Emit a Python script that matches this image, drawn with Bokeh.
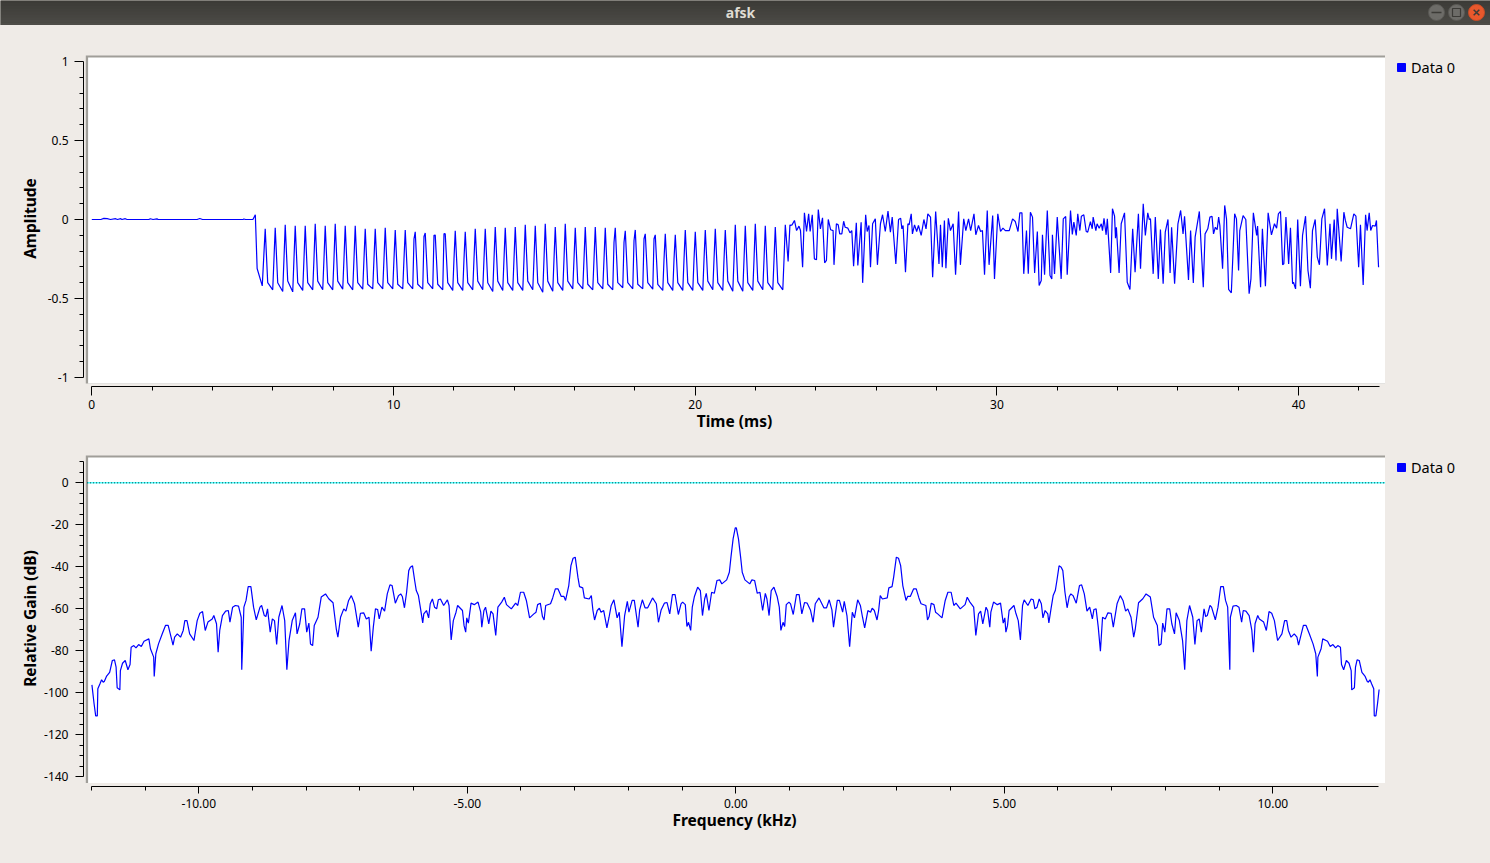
from bokeh.embed import file_html
from bokeh.layouts import column, row
from bokeh.models import (BoxAnnotation, FixedTicker, Label, Legend, LegendItem,
                          PrintfTickFormatter, Range1d)
from bokeh.plotting import figure
from bokeh.resources import INLINE

# time trace, quiet lead-in
quiet_t = [0, 0.3, 0.40, 0.51, 0.62, 0.79, 0.85, 0.96, 1.0, 1.11, 1.17, 1.89, 1.94, 2.03, 2.16, 2.2,
           3.49, 3.58, 3.67, 5.01, 5.04, 5.1, 5.34, 5.42, 5.48, 5.65]
quiet_amp = [0, 0, .007, .005, 0, .005, 0, .005, 0, .005, 0, 0, .005, 0, .004, 0,
             0, .006, 0, 0, .003, 0, 0, .03, -.31, -.42]

# one row per pulse of the preamble
pulse_peak = [-.059, -.053, -.034, -.04, -.04, -.027, -.04, -.027, -.04, -.04, -.059, -.059, -.053,
              -.066, -.066, -.078, -.085, -.099, -.091, -.072, -.078, -.059, -.059, -.047, -.053,
              -.047, -.034, -.04, -.027, -.047, -.027, -.053, -.047, -.047, -.053, -.053, -.072,
              -.066, -.091, -.097, -.091, -.097, -.066, -.078, -.066, -.059, -.066, -.034, -.04,
              -.027, -.04, -.047, -.034]
pulse_knee = [-.40, -.40, -.39, -.40, -.40, -.39, -.40, -.39, -.40, -.40, -.41, -.40, -.40, -.41,
              -.40, -.41, -.40, -.41, -.40, -.40, -.40, -.39, -.40, -.39, -.40, -.40, -.39, -.40,
              -.39, -.40, -.39, -.40, -.41, -.40, -.41, -.40, -.40, -.41, -.40, -.41, -.40, -.40,
              -.40, -.40, -.39, -.40, -.39, -.39, -.40, -.39, -.40, -.40, -.40]
pulse_floor = [-.445, -.456, -.458, -.449, -.445, -.445, -.445, -.441, -.445, -.441, -.439, -.439,
               -.439, -.439, -.439, -.441, -.439, -.445, -.449, -.449, -.445, -.445, -.456, -.449,
               -.449, -.449, -.445, -.46, -.454, -.449, -.439, -.439, -.445, -.439, -.445, -.432,
               -.439, -.439, -.441, -.449, -.449, -.449, -.449, -.449, -.445, -.449, -.454, -.454,
               -.449, -.445, -.445, -.445, -.44]
pulse_rise = [-.25, -.25, -.25, -.25, -.25, -.25, -.25, -.25, -.25, -.25, -.25, -.25, -.25, -.25,
              -.122, -.108, -.10, -.09, -.25, -.25, -.25, -.25, -.25, -.25, -.25, -.25, -.25, -.25,
              -.25, -.25, -.25, -.25, -.25, -.25, -.144, -.144, -.133, -.122, -.122, -.25, -.25,
              -.25, -.25, -.25, -.25, -.25, -.25, -.25, -.25, -.25, -.25, -.25, -.25]
pulse_first_ms = 5.748
pulse_period_ms = 0.3315

# payload part of the time trace
burst_t = [23.08, 23.14, 23.16, 23.21, 23.29, 23.36, 23.44, 23.49, 23.56, 23.62, 23.69, 23.76, 23.81, 23.88,
           23.95, 24.02, 24.08, 24.15, 24.22, 24.29, 24.35, 24.41, 24.49, 24.57, 24.60, 24.68, 24.74,
           24.79, 24.86, 24.92, 24.97, 25.06, 25.13, 25.19, 25.25, 25.34, 25.39, 25.50, 25.55, 25.65,
           25.70, 25.76, 25.81, 25.88, 25.97, 26.04, 26.14, 26.21, 26.30, 26.39, 26.47, 26.53, 26.65,
           26.74, 26.81, 26.85, 26.89, 26.97, 27.05, 27.09, 27.16, 27.20, 27.27, 27.34, 27.40, 27.49,
           27.58, 27.65, 27.71, 27.80, 27.87, 27.97, 28.08, 28.13, 28.19, 28.26, 28.31, 28.39, 28.46,
           28.55, 28.63, 28.73, 28.79, 28.90, 28.97, 29.06, 29.13, 29.24, 29.30, 29.39, 29.46, 29.52,
           29.59, 29.68, 29.74, 29.86, 29.92, 30.03, 30.12, 30.20, 30.28, 30.41, 30.52, 30.61, 30.70,
           30.76, 30.83, 30.89, 30.98, 31.04, 31.11, 31.18, 31.25, 31.34, 31.40, 31.47, 31.51, 31.58,
           31.67, 31.76, 31.82, 31.84, 31.91, 32.00, 32.13, 32.20, 32.28, 32.33, 32.44,
           32.50, 32.55, 32.63, 32.68, 32.75, 32.80, 32.88, 32.96, 33.01, 33.10, 33.16, 33.19, 33.28,
           33.32, 33.39, 33.46, 33.50, 33.55, 33.62, 33.66, 33.77, 33.83, 33.90, 33.93, 33.96, 34.05,
           34.12, 34.23, 34.32, 34.41, 34.50, 34.58, 34.69, 34.76, 34.85, 34.92, 35.00, 35.05, 35.09,
           35.18, 35.25, 35.35, 35.42, 35.51, 35.58, 35.67, 35.74, 35.79, 35.89, 36.00, 36.09, 36.17,
           36.22, 36.35, 36.42, 36.51, 36.57, 36.71, 36.84, 36.90, 36.99, 37.06, 37.13, 37.18, 37.24,
           37.30, 37.35, 37.39, 37.48, 37.55, 37.61, 37.68, 37.77, 37.88, 37.94, 38.01, 38.05, 38.16,
           38.25, 38.36, 38.42, 38.50, 38.61, 38.64, 38.74, 38.80, 38.90, 38.99, 39.10, 39.20, 39.27,
           39.33, 39.40, 39.47, 39.51, 39.58, 39.67, 39.73, 39.80, 39.83, 39.90, 39.97, 40.06, 40.13,
           40.23, 40.31, 40.39, 40.46, 40.55, 40.62, 40.69, 40.77, 40.86, 40.95, 41.04, 41.09, 41.18,
           41.24, 41.28, 41.41, 41.50, 41.55, 41.61, 41.72, 41.83, 41.90, 41.99, 42.05, 42.14, 42.22,
           42.27, 42.34, 42.39, 42.45, 42.54, 42.58, 42.65]
burst_amp = [-.266, -.034, -.038, -.034, -.006, -.07, -.042, -.07, -.302, .042, -.076, .036, -.076, .03,
             -.249, -.255, .063, -.059, .011, -.274, -.259, 0, -.065, -.07, -.287, -.027, -.034,
             -.091, -.091, -.011, -.049, -.055, -.084, -.07, -.295, -.021, -.291, -.017, -.401, .03,
             -.076, -.038, -.302, -.027, .004, -.287, -.027, .03, -.076, .053, -.08, .015, -.281,
             0, .008, -.059, -.038, -.333, -.027, -.034, .036, -.091, -.034, -.076, -.038, -.101,
             0, -.059, .036, .015, -.365, .051, -.281, -.034, -.302, -.006, -.308, .008, -.07,
             -.027, -.35, .051, -.287, .004, -.07, .004, -.07, .036, -.097, -.038, -.076, -.07,
             -.35, .057, -.287, .025, -.376, .036, -.076, -.055, -.07, -.07, .004, -.013, -.076,
             .042, .042, -.344, -.07, -.344, .046, .015, -.338, -.076, -.418, -.386, -.097, -.35,
             .057, -.354, -.376, -.097, -.344, .015, -.376, .004, .019, -.35, .057,
             -.095, -.017, -.101, .036, -.07, .021, .03, -.076, -.08, -.013, -.059, .015, -.07,
             -.027, -.055, -.027, -.07, .008, -.097, .004, -.338, .068, .021, -.118, -.049, -.338,
             -.027, .042, -.397, -.443, -.059, -.333, .036, -.312, .099, -.101, .042, 0, .004,
             -.344, .015, -.376, -.063, -.407, -.08, 0, -.338, -.049, -.407, -.027, .057, -.091,
             .021, -.382, -.07, -.401, -.112, .051, -.428, -.091, -.059, .015, .021, -.091, -.049,
             -.065, .015, -.038, -.312, .089, .004, -.443, -.464, .036, .004, -.323, -.07, .025,
             0, -.47, -.376, .042, -.101, -.042, -.428, -.059, -.422, .042, -.097, -.027, -.055,
             .036, .051, -.287, -.281, .015, -.281, -.053, -.407, -.397, -.439, 0, -.422, -.101,
             .021, -.323, -.435, -.07, 0, -.238, -.287, .004, .068, -.291, -.027, -.249, 0,
             -.259, .068, -.266, .046, -.006, -.049, -.059, .036, .021, -.302, -.034, -.414, .03,
             -.07, .042, -.07, -.038, -.042, -.006, -.302]

# spectrum, negative frequencies
freq_left = [-11.99, -11.95, -11.92, -11.89, -11.88, -11.84, -11.81, -11.78, -11.76, -11.72, -11.66, -11.61, -11.57,
             -11.54, -11.52, -11.47, -11.46, -11.42, -11.37, -11.32, -11.28, -11.26, -11.21, -11.17, -11.12, -11.07,
             -11.02, -10.93, -10.9, -10.84, -10.83, -10.8, -10.75, -10.68, -10.62, -10.57, -10.5, -10.48, -10.45,
             -10.4, -10.34, -10.29, -10.26, -10.22, -10.17, -10.09, -10.03, -9.98, -9.93, -9.88, -9.83, -9.75, -9.72,
             -9.67, -9.64, -9.61, -9.56, -9.5, -9.45, -9.42, -9.37, -9.32, -9.26, -9.21, -9.2, -9.16, -9.12, -9.08,
             -9.03, -8.98, -8.93, -8.86, -8.83, -8.78, -8.75, -8.72, -8.67, -8.63, -8.59, -8.55, -8.51, -8.45, -8.4,
             -8.36, -8.32, -8.26, -8.2, -8.17, -8.12, -8.08, -8.03, -7.99, -7.95, -7.92, -7.88, -7.85, -7.78, -7.72,
             -7.64, -7.58, -7.5, -7.44, -7.41, -7.36, -7.3, -7.26, -7.21, -7.16, -7.1, -7.03, -6.99, -6.93, -6.88,
             -6.83, -6.79, -6.75, -6.71, -6.67, -6.64, -6.59, -6.54, -6.49, -6.44, -6.4, -6.34, -6.28,
             -6.24, -6.21, -6.17, -6.13, -6.09, -6.06, -6.02, -5.98, -5.95, -5.91, -5.87, -5.83, -5.81, -5.76, -5.72,
             -5.69, -5.65, -5.61, -5.57, -5.54, -5.5, -5.44, -5.37, -5.34, -5.3, -5.26, -5.21, -5.18, -5.09, -5.06,
             -5.03, -5.01, -4.98, -4.93, -4.87, -4.80, -4.75, -4.73, -4.69, -4.66, -4.60, -4.56, -4.52, -4.47, -4.43,
             -4.36, -4.31, -4.27, -4.18, -4.10, -4.06, -4.01, -3.95, -3.9, -3.84, -3.76, -3.72, -3.69, -3.64, -3.6,
             -3.57, -3.54, -3.45, -3.41, -3.36, -3.31, -3.25, -3.2, -3.17, -3.11, -3.07, -3.03, -2.99, -2.94, -2.91,
             -2.85, -2.82, -2.73, -2.69, -2.66, -2.63, -2.58, -2.54, -2.51, -2.46, -2.4, -2.36, -2.32, -2.27, -2.21,
             -2.17, -2.12, -2.07, -2.02, -1.99, -1.93, -1.89, -1.82, -1.79, -1.74, -1.69, -1.64, -1.55, -1.48, -1.44,
             -1.39, -1.33, -1.28, -1.23, -1.18, -1.13, -1.07, -1.02, -.99, -.94, -.91, -.88, -.84, -.81, -.77, -.71,
             -.66, -.62, -.58, -.55, -.5, -.45, -.4, -.35, -.3, -.26, -.17, -.12, -.09, -.05, -.01]
gain_left = [-96.2, -105.2, -111, -111, -98.1, -95.7, -93.8, -94.9, -94.6, -92.2, -90.2, -84.6, -84.3,
             -87.8, -97.6, -98.6, -89.4, -85.9, -84.6, -89, -86.5, -78.3, -77.5, -78.6, -77, -77.9,
             -75.4, -74.3, -79, -83, -92.2, -81.4, -76.7, -71.9, -67.9, -67.9, -75.1, -77.3, -73.5,
             -71.9, -73.5, -70.3, -65.6, -65.6, -71.9, -75.1, -65.6, -62.1, -61.3, -70.3, -66.3, -64.8, -63.2,
             -67.1, -80.6, -70.3, -63.2, -61.1, -60.8, -66.3, -59.2, -58.4, -58.7, -64, -89, -59.2, -56, -49.4,
             -49.4, -59.2, -65.2, -59.2, -58.4, -63.2, -63.7, -60, -71.1, -64.8, -65.6, -77, -64, -58.4, -65.6,
             -89, -75.1, -65.6, -61.9, -71.9, -67.1, -60, -60, -71.1, -66.8, -76.7, -77.5, -67.9, -64, -54.4,
             -52.9, -55.2, -57.1, -69.5, -73.5, -64, -60, -61.1, -56, -53.7, -57.6, -68.7, -62.1, -61.9, -64.8,
             -64, -80.2, -68.7, -60, -60.3, -64.8, -59.2, -61.1, -52.9, -48.6, -48.9, -57.3, -53.7,
             -52.9, -54.1, -59.5, -52.1, -41.8, -40.2, -39.5, -46.5, -51.3, -53.7, -60, -66.7, -62.4, -60.8, -64.3,
             -57.6, -55.3, -59.2, -60, -55.7, -55.3, -58.4, -55.7, -58.4, -74.8, -65.6, -61.6, -58.4, -60.8, -68,
             -71.1, -64.3, -66.8, -57.3, -58, -56.8, -61.6, -68.7, -60.8, -59.2, -67.2, -61.1, -62.4, -72.7, -59.2,
             -56.8, -54.5, -58, -60, -57.3, -58.4, -52.1, -52.1, -56, -64.3, -62.4, -61.6, -58, -57.3, -63.7,
             -65.3, -58.4, -57.6, -54.8, -50.5, -50.5, -54.1, -54.1, -56, -48.9, -39.4, -35.9, -35.4, -44.9, -49.4,
             -50, -54.8, -55.3, -53.7, -60.8, -65.3, -60.8, -59.7, -61.6, -60.8, -69.1, -64, -58.4, -55.7, -64.3,
             -61.6, -78, -63.2, -56.4, -61.6, -56, -56, -68.7, -60.5, -55.7, -59.5, -59.5, -54.8, -57.6, -66.4,
             -60.5, -57.3, -57, -62.4, -53.2, -53.2, -62.7, -57.6, -56.8, -58, -68.4, -66.4, -70.3, -59.2, -54.1, -49.7,
             -51.3, -63.2, -55.3, -52.6, -60.8, -52.1, -52.6, -46.5, -46.2, -48.1, -46.2, -42.6, -35.4, -26.7, -21.4]

# spectrum, positive frequencies
freq_right = [.01, .05, .09, .12, .17, .26, .3, .35, .4, .45, .5, .55, .58, .62, .66,
              .71, .77, .81, .84, .88, .91, .94, .99, 1.02, 1.07, 1.13, 1.18, 1.23, 1.28, 1.33, 1.39,
              1.44, 1.48, 1.55, 1.64, 1.69, 1.74, 1.79, 1.82, 1.89, 1.93, 1.99, 2.02, 2.07, 2.12, 2.17,
              2.21, 2.27, 2.32, 2.36, 2.4, 2.46, 2.51, 2.54, 2.58, 2.63, 2.66, 2.69, 2.73, 2.82, 2.85,
              2.91, 2.94, 2.99, 3.03, 3.07, 3.11, 3.17, 3.2, 3.25, 3.31, 3.36, 3.41, 3.45, 3.54, 3.57,
              3.6, 3.64, 3.69, 3.72, 3.76, 3.84, 3.9, 3.95, 4.01, 4.06, 4.10, 4.18, 4.27, 4.31, 4.36,
              4.43, 4.47, 4.52, 4.56, 4.60, 4.66, 4.69, 4.73, 4.75, 4.80, 4.87, 4.93, 4.98, 5.01, 5.03,
              5.06, 5.09, 5.18, 5.21, 5.26, 5.3, 5.34, 5.37, 5.44, 5.5, 5.54, 5.57, 5.61, 5.65, 5.69,
              5.72, 5.76, 5.81, 5.83, 5.87, 5.91, 5.95, 5.98, 6.02, 6.06, 6.09, 6.13, 6.17, 6.21, 6.24,
              6.28, 6.34, 6.4, 6.44, 6.49, 6.54, 6.59, 6.64, 6.67, 6.71, 6.75, 6.79, 6.83, 6.88, 6.93,
              6.99, 7.03, 7.1, 7.16, 7.21, 7.26, 7.3, 7.36, 7.41, 7.44, 7.5, 7.58, 7.64, 7.72, 7.78,
              7.85, 7.88, 7.92, 7.95, 7.99, 8.03, 8.08, 8.12, 8.17, 8.2, 8.26, 8.32, 8.36, 8.4, 8.45,
              8.51, 8.55, 8.59, 8.63, 8.67, 8.72, 8.75, 8.78, 8.83, 8.86, 8.93, 8.98, 9.03, 9.08, 9.12,
              9.16, 9.2, 9.21, 9.26, 9.32, 9.37, 9.42, 9.45, 9.5, 9.56, 9.61, 9.64, 9.67, 9.72, 9.75,
              9.83, 9.88, 9.93, 9.98, 10.03, 10.09, 10.17, 10.22, 10.26, 10.29, 10.34, 10.4, 10.45,
              10.48, 10.5, 10.57, 10.62, 10.68, 10.75, 10.8, 10.83, 10.84, 10.9, 10.93, 11.02, 11.07,
              11.12, 11.17, 11.21, 11.26, 11.28, 11.32, 11.37, 11.42, 11.46, 11.47, 11.52, 11.54, 11.57,
              11.61, 11.66, 11.72, 11.76, 11.78, 11.81, 11.84, 11.88, 11.89, 11.92, 11.95, 11.98]
gain_right = [-21.4, -26.7, -35.4, -42.6, -46.2, -48.1, -46.2, -46.5, -52.6, -52.1, -60.8, -52.6, -55.3, -63.2, -51.3,
              -49.7, -54.1, -59.2, -70.3, -66.4, -68.4, -58, -56.8, -57.6, -62.7, -53.2, -53.2, -62.4, -57, -57.3, -60.5,
              -66.4, -57.6, -54.8, -59.5, -59.5, -55.7, -60.5, -68.7, -56, -56, -61.6, -56.4, -63.2, -78, -61.6,
              -64.3, -55.7, -58.4, -64, -69.1, -60.8, -61.6, -59.7, -60.8, -65.3, -60.8, -53.7, -55.3, -54.8, -50,
              -49.4, -44.9, -35.4, -35.9, -39.4, -48.9, -56, -54.1, -54.1, -50.5, -50.5, -54.8, -57.6, -58.4, -65.3,
              -63.7, -57.3, -58, -61.6, -62.4, -64.3, -56, -52.1, -52.1, -58.4, -57.3, -60, -58, -54.5, -56.8,
              -59.2, -72.7, -62.4, -61.1, -67.2, -59.2, -60.8, -68.7, -61.6, -56.8, -58, -57.3, -66.8, -64.3, -71.1,
              -68, -60.8, -58.4, -61.6, -65.6, -74.8, -58.4, -55.7, -58.4, -55.3, -55.7, -60, -59.2, -55.3, -57.6,
              -64.3, -60.8, -62.4, -66.7, -60, -53.7, -51.3, -46.5, -39.5, -40.2, -41.8, -52.1, -59.5, -54.1, -52.9,
              -53.7, -57.3, -48.9, -48.6, -52.9, -61.1, -59.2, -64.8, -60.3, -60, -68.7, -80.2, -64, -64.8, -61.9,
              -62.1, -68.7, -57.6, -53.7, -56, -61.1, -60, -64, -73.5, -69.5, -57.1, -55.2, -52.9, -54.4, -64,
              -67.9, -77.5, -76.7, -66.8, -71.1, -60, -60, -67.1, -71.9, -61.9, -65.6, -75.1, -89, -65.6, -58.4,
              -64, -77, -65.6, -64.8, -71.1, -60, -63.7, -63.2, -58.4, -59.2, -65.2, -59.2, -49.4, -49.4, -56,
              -59.2, -89, -64, -58.7, -58.4, -59.2, -66.3, -60.8, -61.1, -63.2, -70.3, -80.6, -67.1, -63.2, -64.8,
              -66.3, -70.3, -61.3, -62.1, -65.6, -75.1, -71.9, -65.6, -65.6, -70.3, -73.5, -71.9, -73.5,
              -77.3, -75.1, -67.9, -67.9, -71.9, -76.7, -81.4, -92.2, -83, -79, -74.3, -75.4, -77.9,
              -77, -78.6, -77.5, -78.3, -86.5, -89, -84.6, -85.9, -89.4, -98.6, -97.6, -87.8, -84.3,
              -84.6, -90.2, -92.2, -94.6, -94.9, -93.8, -95.7, -98.1, -111, -111, -105.2, -98.4]

# unity gain reference line
marker_freq = [-12.08, 12.09]
marker_gain = [0, 0]

amp_ticks = [-1, -0.5, 0, 0.5, 1]
amp_labels = ["-1", "-0.5", "0", "0.5", "1"]
amp_minor = [-.9, -.8, -.7, -.6, -.4, -.3, -.2, -.1, .1, .2, .3, .4, .6, .7, .8, .9]
time_ticks = [0, 10, 20, 30, 40]
time_minor = [2, 4, 6, 8, 12, 14, 16, 18, 22, 24, 26, 28, 32, 34, 36, 38, 42]
gain_ticks = [-140, -120, -100, -80, -60, -40, -20, 0]
gain_labels = ["-140", "-120", "-100", "-80", "-60", "-40", "-20", "0"]
gain_minor = [-135, -130, -125, -115, -110, -105, -95, -90, -85, -75, -70, -65, -55, -50, -45,
              -35, -30, -25, -15, -10, -5, 5, 10]
freq_ticks = [-10, -5, 0, 5, 10]
freq_minor = [-12, -11, -9, -8, -7, -6, -4, -3, -2, -1, 1, 2, 3, 4, 6, 7, 8, 9, 11]
legend_label = "Data 0"

WINDOW = "#efebe7"
PANEL = "#a09e99"
EDGE = "#5f5e5a"
TRACE = "#0000ff"
FONT = "Noto Sans"


def make_plot(height, xr, yr, xlabel, ylabel, top, bottom, canvas_top, canvas_bottom):
    p = figure(width=1385, height=height, x_range=Range1d(*xr), y_range=Range1d(*yr),
               output_backend="svg", toolbar_location=None, frame_align=False,
               min_border_left=83, min_border_right=0, min_border_top=top, min_border_bottom=bottom)
    p.background_fill_color = WINDOW
    p.border_fill_color = WINDOW
    p.outline_line_color = None
    p.grid.visible = False
    # sunken canvas of the qwt plot, placed from the lower left frame corner
    p.add_layout(BoxAnnotation(left=2.3, right=1302, top=canvas_top + 2, bottom=canvas_bottom,
                               left_units="screen", right_units="screen", top_units="screen",
                               bottom_units="screen", fill_color=PANEL, fill_alpha=1,
                               line_alpha=0, level="underlay"))
    p.add_layout(BoxAnnotation(left=4.6, right=1302, top=canvas_top, bottom=canvas_bottom,
                               left_units="screen", right_units="screen", top_units="screen",
                               bottom_units="screen", fill_color="white", fill_alpha=1,
                               line_alpha=0, level="underlay"))
    for ax, label in ((p.xaxis[0], xlabel), (p.yaxis[0], ylabel)):
        ax.axis_label = label
        ax.axis_label_text_font = FONT
        ax.axis_label_text_font_style = "bold"
        ax.axis_label_text_font_size = "15.5px"
        ax.axis_label_text_color = "black"
        ax.major_label_text_font = FONT
        ax.major_label_text_font_size = "12px"
        ax.major_label_text_color = "black"
        ax.axis_line_color = "black"
        ax.major_tick_line_color = "black"
        ax.minor_tick_line_color = "black"
        ax.major_tick_in = 0
        ax.minor_tick_in = 0
        ax.major_tick_out = 9
        ax.minor_tick_out = 4
    p.xaxis[0].major_label_standoff = 4
    p.xaxis[0].axis_label_standoff = -2
    p.yaxis[0].major_label_standoff = 6
    p.yaxis[0].axis_label_standoff = 0
    return p


def make_legend(height, top):
    p = figure(width=105, height=height, x_range=Range1d(0, 105), y_range=Range1d(0, height),
               x_axis_type=None, y_axis_type=None, output_backend="svg", toolbar_location=None,
               frame_align=False, min_border=0)
    p.background_fill_color = WINDOW
    p.border_fill_color = WINDOW
    p.outline_line_color = None
    p.grid.visible = False
    swatch = p.scatter([float("nan")], [float("nan")], marker="square", size=8, color=TRACE)
    legend = Legend(items=[LegendItem(label=legend_label, renderers=[swatch])],
                    location=(6, height - top - 20),
                    border_line_color=None, background_fill_alpha=0, margin=0, padding=0,
                    glyph_width=20, glyph_height=20, label_height=20, label_standoff=0,
                    label_text_font=FONT, label_text_font_size="14.5px", label_text_color="black")
    p.add_layout(legend)
    return p


# title bar of the window
bar = figure(width=1490, height=25, x_range=Range1d(0, 1490), y_range=Range1d(25, 0),
             x_axis_type=None, y_axis_type=None, output_backend="svg", toolbar_location=None,
             frame_align=False, min_border=0)
bar.outline_line_color = None
bar.grid.visible = False
bar.border_fill_color = "#45443f"
bar.background_fill_color = "#45443f"
bar_shades = ["#3c3b37", "#3e3d39", "#403f3b", "#42413d", "#44433f", "#464541", "#484743", "#4b4a45", "#4e4d48"]
bar.quad(left=0, right=1490, top=[i * 25 / 9 for i in range(9)], bottom=[(i + 1) * 25 / 9 for i in range(9)],
         fill_color=bar_shades, line_color=None)
bar.add_layout(Label(x=740, y=12, text="afsk", text_font=FONT, text_font_style="bold",
                     text_font_size="14px", text_color="#dfdbd2", text_align="center",
                     text_baseline="middle"))
bar.scatter([1436, 1456], [12, 12], size=16, color="#6d6c68", line_color="#5a5955")
bar.scatter([1476], [12], size=16, color="#e9582c", line_color="#c84c26")
bar.scatter([1436], [12], marker="dash", size=10, line_color="#3c3b37", fill_color=None, line_width=1.5)
bar.scatter([1456], [12], marker="square", size=8, line_color="#3c3b37", fill_color=None, line_width=1.2)
bar.scatter([1476], [12], marker="x", size=8, line_color="#3c3b37", line_width=1.5)

# time plot
time_plot = make_plot(415, (-0.275, 42.88), (-1.057, 1.0696), "Time (ms)", "Amplitude", 25, 54, 329, 3)
trace_t = list(quiet_t)
trace_amp = list(quiet_amp)
sample_ms = pulse_period_ms / 8
for k in range(len(pulse_peak)):
    t0 = pulse_first_ms + k * pulse_period_ms
    trace_t.append(t0)
    trace_amp.append(pulse_peak[k])
    if k < len(pulse_peak) - 1:
        trace_t += [t0 + 2 * sample_ms, t0 + 6 * sample_ms, t0 + 7 * sample_ms]
        trace_amp += [pulse_knee[k], pulse_floor[k], pulse_rise[k]]
trace_t += burst_t
trace_amp += burst_amp
time_plot.line(trace_t, trace_amp, line_color=TRACE, line_width=1.2)
time_plot.xaxis[0].ticker = FixedTicker(ticks=time_ticks, minor_ticks=time_minor)
time_plot.yaxis[0].ticker = FixedTicker(ticks=amp_ticks, minor_ticks=amp_minor)
time_plot.yaxis[0].major_label_overrides = dict(zip(amp_ticks, amp_labels))
time_plot.yaxis[0].axis_label_standoff = 4
time_plot.xaxis[0].bounds = (0, 42.67)
time_plot.yaxis[0].bounds = (-1, 1)

# frequency plot
freq_plot = make_plot(420, (-12.147, 12.099), (-144.6, 15.4), "Frequency (kHz)", "Relative Gain (dB)", 10, 74, 329, 3.5)
freq_plot.line(marker_freq, marker_gain, line_color="#00ffff", line_width=1)
freq_plot.line(marker_freq, marker_gain, line_color="#004040", line_width=1, line_dash=[1, 2])
freq_plot.line(freq_left + freq_right, gain_left + gain_right, line_color=TRACE, line_width=1.2)
freq_plot.xaxis[0].ticker = FixedTicker(ticks=freq_ticks, minor_ticks=freq_minor)
freq_plot.xaxis[0].formatter = PrintfTickFormatter(format="%.2f")
freq_plot.xaxis[0].major_tick_out = 7
freq_plot.xaxis[0].major_label_standoff = 5
freq_plot.xaxis[0].axis_label_standoff = -2
freq_plot.yaxis[0].ticker = FixedTicker(ticks=gain_ticks, minor_ticks=gain_minor)
freq_plot.yaxis[0].major_tick_out = 8
freq_plot.yaxis[0].major_label_standoff = 7
freq_plot.yaxis[0].major_label_overrides = dict(zip(gain_ticks, gain_labels))
freq_plot.xaxis[0].bounds = (-12, 11.97)
freq_plot.yaxis[0].bounds = (-140, 10)

back = {"background-color": WINDOW}
page = column(bar,
              row(time_plot, make_legend(415, 32), spacing=0, styles=back),
              row(freq_plot, make_legend(423, 17), spacing=0, styles=back),
              spacing=0, styles=back)
open("out.html", "w").write(file_html(page, INLINE))
